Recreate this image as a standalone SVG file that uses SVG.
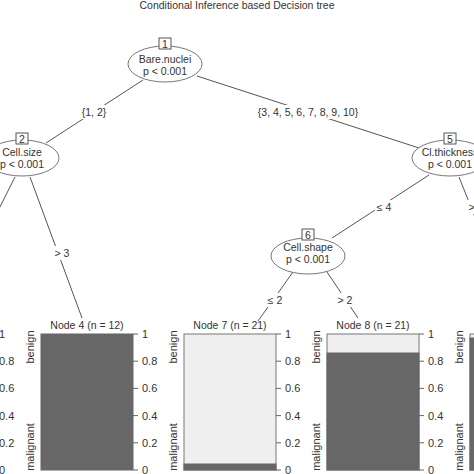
<svg xmlns="http://www.w3.org/2000/svg" width="474" height="474" viewBox="0 0 474 474">
<style>
text{font-family:"Liberation Sans",Arial,sans-serif;fill:#333}
.t{font-size:10.5px;text-anchor:middle}
.ax{font-size:11px;text-anchor:start}
.lab{font-size:11px;text-anchor:middle}
.ell{fill:#fff;stroke:#777;stroke-width:1}
.box{fill:#fff;stroke:#555;stroke-width:1}
.edge{stroke:#555;stroke-width:1;fill:none}
.lbg{fill:#fff}
.tick{stroke:#666;stroke-width:1}
.dark{fill:#676767;stroke:#666;stroke-width:1}
.light{fill:#efefef;stroke:#777;stroke-width:1}
</style>
<rect width="474" height="474" fill="#fff"/>
<text class="t" x="237" y="9">Conditional Inference based Decision tree</text>

<g id="connectors">
<line class="edge" x1="143" y1="80" x2="46" y2="143"/>
<line class="edge" x1="197" y1="76" x2="419" y2="148"/>
<line class="edge" x1="15" y1="177" x2="-56" y2="318"/>
<line class="edge" x1="30" y1="177" x2="82" y2="318"/>
<line class="edge" x1="429" y1="175" x2="332" y2="238"/>
<line class="edge" x1="459" y1="177" x2="520" y2="330"/>
<line class="edge" x1="293" y1="272" x2="258" y2="321"/>
<line class="edge" x1="327" y1="272" x2="358" y2="318"/>
<rect class="lbg" x="80" y="105" width="28" height="14"/>
<text class="t" x="94" y="116">{1, 2}</text>
<rect class="lbg" x="256" y="105" width="104" height="14"/>
<text class="t" x="308" y="116">{3, 4, 5, 6, 7, 8, 9, 10}</text>
<rect class="lbg" x="53" y="246" width="18" height="14"/>
<text class="t" x="62" y="257">&gt; 3</text>
<rect class="lbg" x="375" y="200" width="18" height="14"/>
<text class="t" x="384" y="211">≤ 4</text>
<rect class="lbg" x="467" y="200" width="18" height="14"/>
<text class="t" x="476" y="211">&gt; 4</text>
<rect class="lbg" x="266" y="293" width="18" height="14"/>
<text class="t" x="275" y="304">≤ 2</text>
<rect class="lbg" x="336" y="293" width="18" height="14"/>
<text class="t" x="345" y="304">&gt; 2</text>
</g>

<g id="node1">
<ellipse class="ell" cx="165" cy="64" rx="37" ry="18"/>
<rect class="box" x="159" y="38" width="12" height="11"/>
<text class="t" x="165" y="47.5">1</text>
<text class="t" x="165" y="63">Bare.nuclei</text>
<text class="t" x="165" y="75">p &lt; 0.001</text>
</g>

<g id="node2">
<ellipse class="ell" cx="22" cy="158" rx="37" ry="18"/>
<rect class="box" x="16" y="133" width="12" height="11"/>
<text class="t" x="22" y="142.5">2</text>
<text class="t" x="22" y="156">Cell.size</text>
<text class="t" x="22" y="168">p &lt; 0.001</text>
</g>

<g id="node5">
<ellipse class="ell" cx="450" cy="158" rx="38" ry="18"/>
<rect class="box" x="444" y="133" width="12" height="11"/>
<text class="t" x="450" y="142.5">5</text>
<text class="t" x="450" y="156">Cl.thickness</text>
<text class="t" x="450" y="168">p &lt; 0.001</text>
</g>

<g id="node6">
<ellipse class="ell" cx="308" cy="256" rx="37" ry="18"/>
<rect class="box" x="302" y="229" width="12" height="11"/>
<text class="t" x="308" y="238.5">6</text>
<text class="t" x="308" y="251">Cell.shape</text>
<text class="t" x="308" y="263">p &lt; 0.001</text>
</g>

<g id="node3">
<text class="ax" x="-1" y="338">1</text>
<text class="ax" x="-1" y="365.2">0.8</text>
<text class="ax" x="-1" y="392.4">0.6</text>
<text class="ax" x="-1" y="419.6">0.4</text>
<text class="ax" x="-1" y="446.8">0.2</text>
<text class="ax" x="-1" y="474">0</text>
<text class="lab" transform="translate(34,347) rotate(-90)">benign</text>
<text class="lab" transform="translate(34,447) rotate(-90)">malignant</text>
</g>

<g id="node4">
<text class="t" x="87" y="329">Node 4 (n = 12)</text>
<rect class="dark" x="41" y="334" width="92" height="136"/>
<g class="tick">
<line x1="133" y1="334" x2="138" y2="334"/><line x1="133" y1="361.2" x2="138" y2="361.2"/><line x1="133" y1="388.4" x2="138" y2="388.4"/><line x1="133" y1="415.6" x2="138" y2="415.6"/><line x1="133" y1="442.8" x2="138" y2="442.8"/><line x1="133" y1="470" x2="138" y2="470"/>
</g>
<text class="ax" x="142" y="338">1</text>
<text class="ax" x="142" y="365.2">0.8</text>
<text class="ax" x="142" y="392.4">0.6</text>
<text class="ax" x="142" y="419.6">0.4</text>
<text class="ax" x="142" y="446.8">0.2</text>
<text class="ax" x="142" y="474">0</text>
<text class="lab" transform="translate(177,347) rotate(-90)">benign</text>
<text class="lab" transform="translate(177,447) rotate(-90)">malignant</text>
</g>

<g id="node7">
<text class="t" x="230" y="329">Node 7 (n = 21)</text>
<rect class="light" x="184" y="334" width="92" height="136"/>
<rect class="dark" x="184" y="464" width="92" height="6"/>
<g class="tick">
<line x1="276" y1="334" x2="281" y2="334"/><line x1="276" y1="361.2" x2="281" y2="361.2"/><line x1="276" y1="388.4" x2="281" y2="388.4"/><line x1="276" y1="415.6" x2="281" y2="415.6"/><line x1="276" y1="442.8" x2="281" y2="442.8"/><line x1="276" y1="470" x2="281" y2="470"/>
</g>
<text class="ax" x="285" y="338">1</text>
<text class="ax" x="285" y="365.2">0.8</text>
<text class="ax" x="285" y="392.4">0.6</text>
<text class="ax" x="285" y="419.6">0.4</text>
<text class="ax" x="285" y="446.8">0.2</text>
<text class="ax" x="285" y="474">0</text>
<text class="lab" transform="translate(320,347) rotate(-90)">benign</text>
<text class="lab" transform="translate(320,447) rotate(-90)">malignant</text>
</g>

<g id="node8">
<text class="t" x="373" y="329">Node 8 (n = 21)</text>
<rect class="light" x="327" y="334" width="92" height="136"/>
<rect class="dark" x="327" y="353" width="92" height="117"/>
<g class="tick">
<line x1="419" y1="334" x2="424" y2="334"/><line x1="419" y1="361.2" x2="424" y2="361.2"/><line x1="419" y1="388.4" x2="424" y2="388.4"/><line x1="419" y1="415.6" x2="424" y2="415.6"/><line x1="419" y1="442.8" x2="424" y2="442.8"/><line x1="419" y1="470" x2="424" y2="470"/>
</g>
<text class="ax" x="428" y="338">1</text>
<text class="ax" x="428" y="365.2">0.8</text>
<text class="ax" x="428" y="392.4">0.6</text>
<text class="ax" x="428" y="419.6">0.4</text>
<text class="ax" x="428" y="446.8">0.2</text>
<text class="ax" x="428" y="474">0</text>
<text class="lab" transform="translate(463,347) rotate(-90)">benign</text>
<text class="lab" transform="translate(463,447) rotate(-90)">malignant</text>
</g>

<g id="node9">
<rect class="light" x="470" y="334" width="92" height="136"/>
<rect class="dark" x="470" y="338" width="92" height="132"/>
</g>
</svg>
